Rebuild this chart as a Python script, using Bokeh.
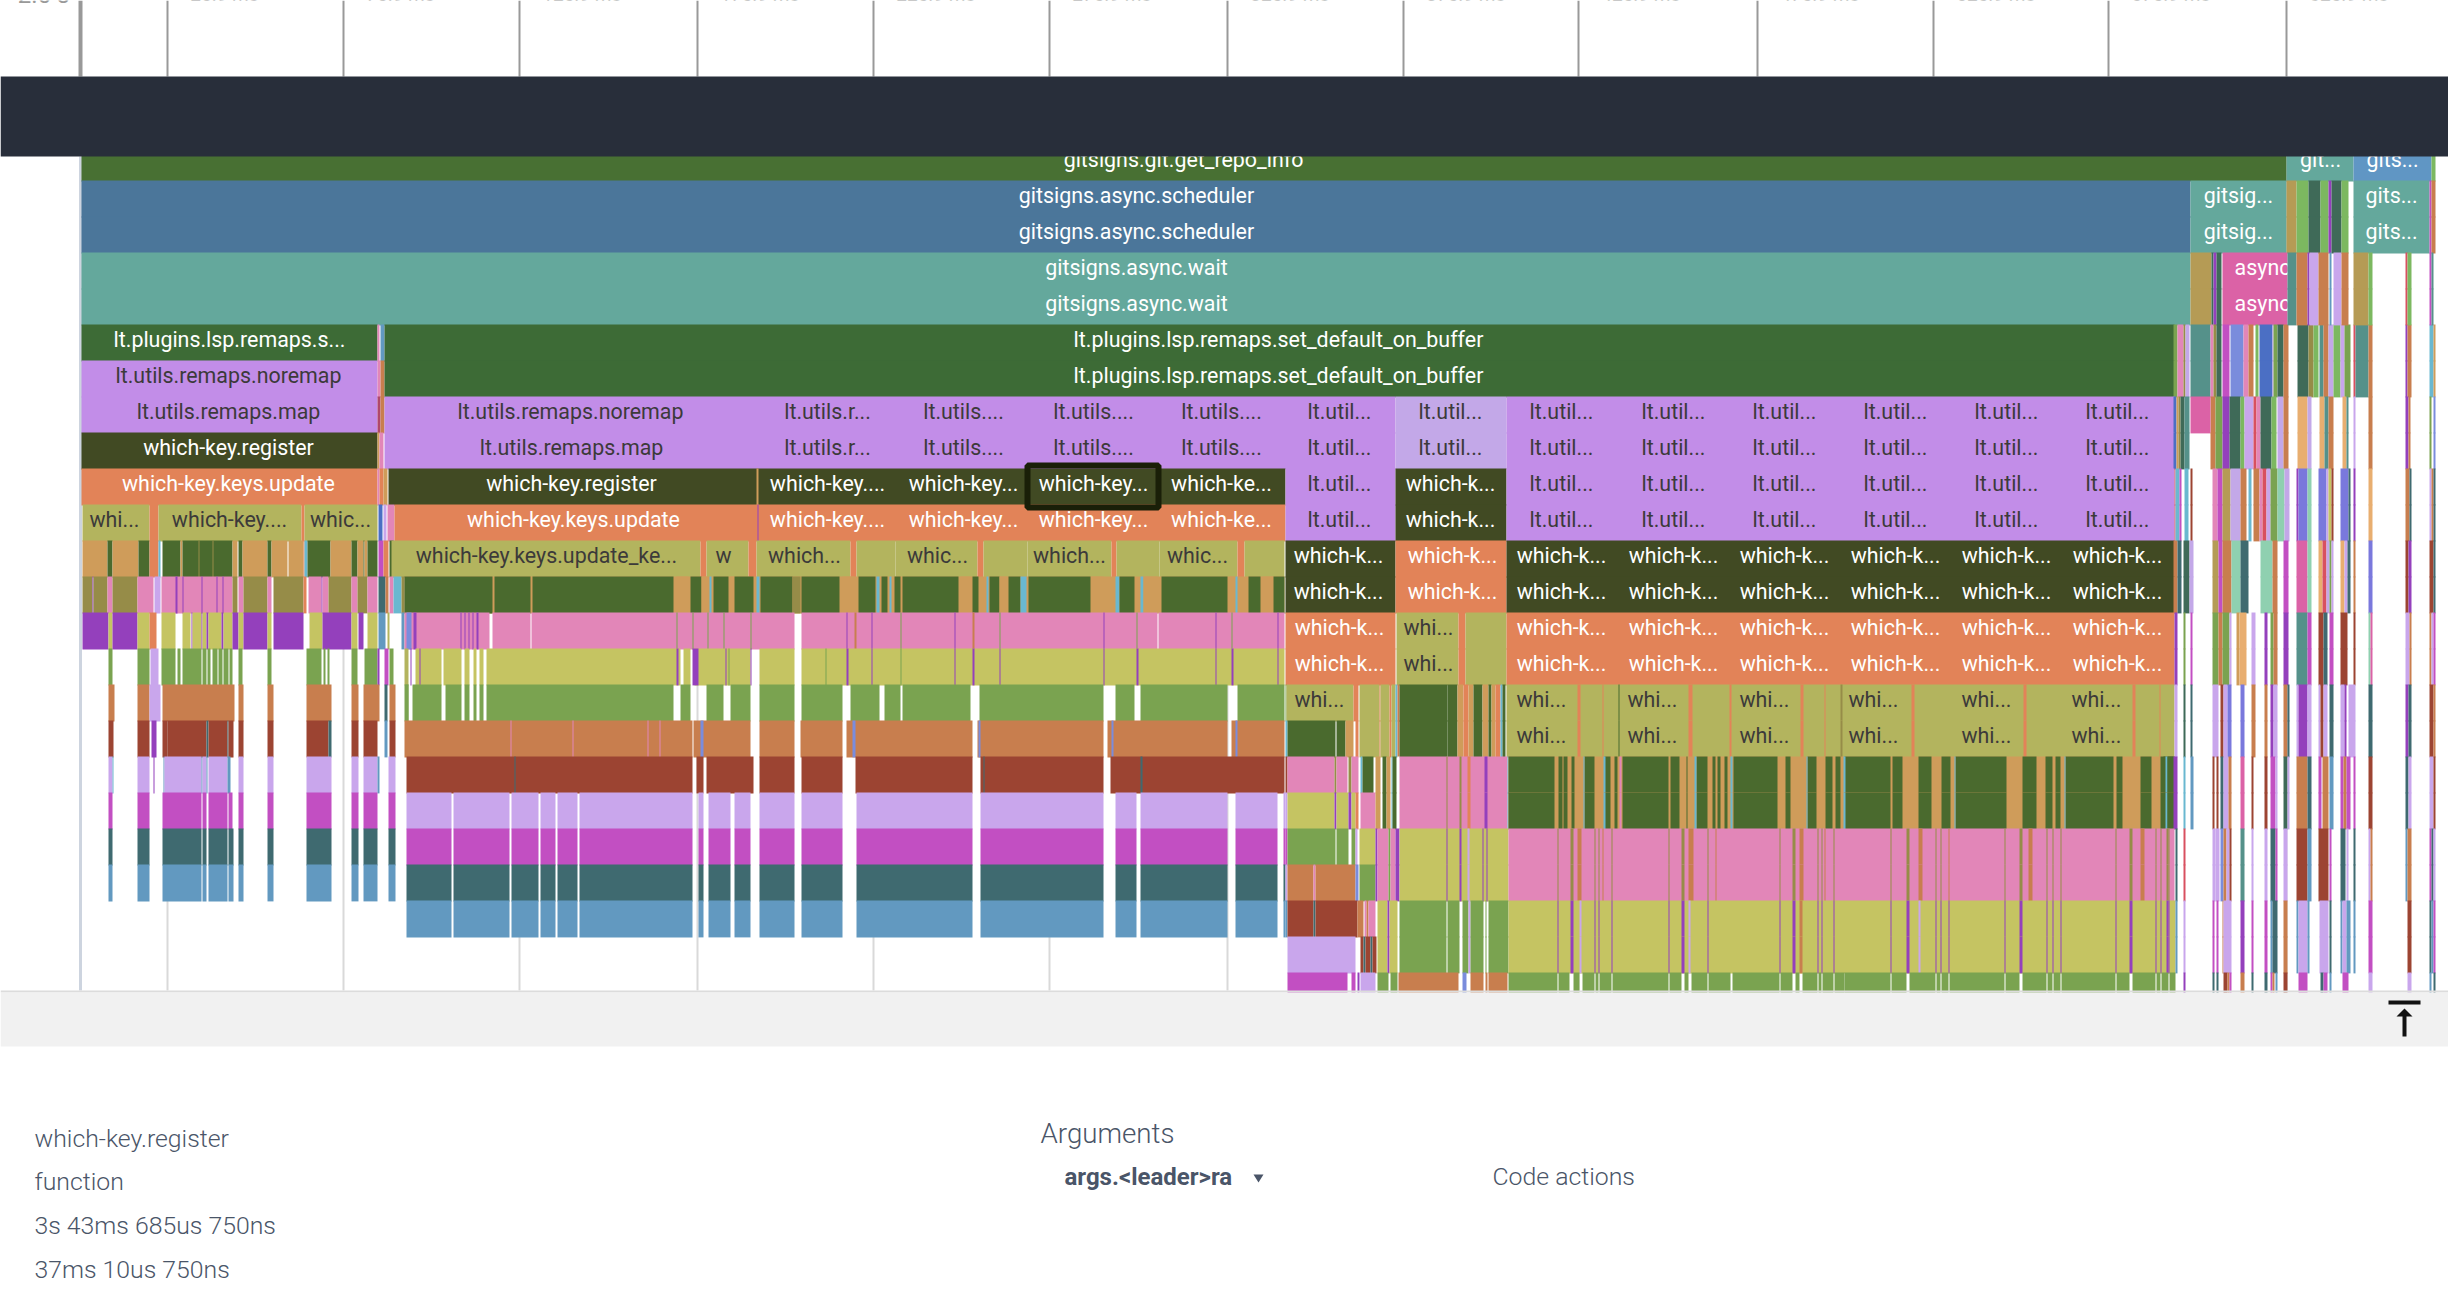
from bokeh.plotting import figure
from bokeh.models import Range1d
from bokeh.core.properties import value
from bokeh.embed import file_html
from bokeh.resources import INLINE

# ---- timeline ticks (x unit: timeline samples since the 2.0 s tick) ----
TICK_T = [87, 263, 439, 617, 793, 969, 1147, 1323, 1498, 1677, 1853, 2028, 2206]
TICK_LABELS = ["+25.9 ms", "+75.9 ms", "+125.9 ms", "+175.9 ms", "+225.9 ms", "+275.9 ms", "+325.9 ms",
               "+375.9 ms", "+425.9 ms", "+475.9 ms", "+525.9 ms", "+575.9 ms", "+625.9 ms"]

# ---- function categories ----
COLORS = dict(GR="#487033", BL="#4b769a", TE="#64a89c", LB="#6096c4", RG="#3d6b36", LV="#c28de8", LL="#c3a8e8",
              OL="#414a23", OR="#e28358", OY="#b3b45e", TN="#cf9c5a", DK="#4a6a2e", PK="#e286b8", YE="#c5c462",
              GN="#7aa350", BR="#c87e4e", RB="#9c4432", LI="#c9a6ec", MG="#c24fc2", DT="#3f6a70", SB="#6299c0",
              PU="#9440bc", O2="#968c48", GD="#b59b55", HP="#db62a6", TM="#55918a", VB="#7a8cdc", CB="#4b6fc4",
              MT="#8fd0b0", AP="#e8ae70", RD="#d85060", CY="#6ab8d0", DG="#3f6a58", LG="#7cb860", VI="#7a78dc",
              WH="#ffffff", CR="#b0486a")

# ---- call spans per depth: (start, end, category) ----
D0 = [(1, 2206, "GR"), (2206, 2273, "TE"), (2273, 2351, "LB"), (2351, 2355, "LG")]
D1_2 = [(1, 2110, "BL"), (2110, 2206, "TE"), (2206, 2216, "GD"), (2216, 2228, "LG"), (2228, 2240, "DG"), (2240, 2248, "LG"),
        (2248, 2251, "PU"), (2251, 2261, "DG"), (2261, 2268, "LG"), (2273, 2349, "TE"), (2349, 2351, "MG"), (2351, 2355, "BR")]
D3_4 = [(1, 2110, "TE"), (2110, 2131, "GD"), (2131, 2133, "DG"), (2133, 2136, "PU"), (2136, 2141, "DG"), (2142, 2207, "HP")]
D3_4_OVER = [(2207, 2216, "TM"), (2216, 2227, "BR"), (2227, 2229, "PU"), (2229, 2238, "LI"), (2238, 2248, "BR"), (2249, 2251, "SB"),
             (2253, 2261, "LI"), (2261, 2268, "BR"), (2273, 2288, "GD"), (2288, 2292, "LG"), (2325, 2327, "RD"), (2327, 2331, "LG"),
             (2349, 2351, "MG"), (2351, 2353, "TM")]
D5 = [(1, 297, "RG"), (297, 299, "PK"), (300, 304, "SB"), (304, 2094, "RG")]
D6 = [(1, 297, "LV"), (297, 300, "PK"), (300, 304, "BR"), (304, 2094, "RG")]
D5_6_TAIL = [(2093, 2097, "GN"), (2097, 2103, "PK"), (2103, 2105, "O2"), (2105, 2109, "LL"), (2110, 2130, "TM"), (2130, 2133, "PK"),
             (2133, 2136, "O2"), (2136, 2141, "DG"), (2142, 2149, "MG"), (2150, 2163, "VB"), (2163, 2168, "PK"), (2168, 2173, "BR"),
             (2175, 2178, "LG"), (2179, 2192, "CB"), (2192, 2193, "LL"), (2193, 2197, "GN"), (2197, 2203, "DG"), (2203, 2208, "BR"),
             (2217, 2228, "DG"), (2228, 2233, "O2"), (2233, 2238, "LG"), (2239, 2243, "TM"), (2243, 2248, "BR"), (2248, 2253, "LL"),
             (2253, 2260, "LG"), (2260, 2264, "LI"), (2264, 2270, "GN"), (2273, 2275, "RD"), (2275, 2288, "TM"), (2288, 2292, "BR"),
             (2325, 2327, "PU"), (2327, 2331, "BR"), (2349, 2353, "CY"), (2353, 2355, "TN")]
D7_LEFT = [(1, 297, "LV"), (297, 300, "CR"), (300, 304, "BR")]
D7 = [(304, 1315, "LV"), (1315, 1426, "LL"), (1426, 2094, "LV")]
D8_LEFT = [(1, 297, "OL"), (297, 299, "TN"), (299, 303, "PK")]
D7_8_TAIL = [(2093, 2096, "CB"), (2096, 2098, "TN"), (2098, 2100, "O2"), (2100, 2104, "DG"), (2104, 2109, "TM"),
             (2130, 2135, "BR"), (2135, 2142, "GN"), (2142, 2149, "PU"), (2149, 2160, "DG"), (2160, 2164, "LG"), (2164, 2173, "LI"),
             (2173, 2176, "RD"), (2176, 2180, "PK"), (2180, 2191, "DG"), (2191, 2196, "LG"), (2197, 2203, "LL"), (2203, 2208, "BR"),
             (2217, 2227, "AP"), (2227, 2231, "LL"), (2239, 2244, "AP"), (2244, 2248, "TM"), (2248, 2253, "BR"), (2262, 2266, "AP"),
             (2266, 2268, "TM"), (2273, 2275, "LI"), (2288, 2292, "BR"), (2325, 2328, "PU"), (2328, 2330, "BR"), (2349, 2351, "GN"),
             (2353, 2355, "VB")]
D7_EXTRA = [(2110, 2130, "HP")]
D9 = [(1, 297, "OR"), (297, 299, "PK"), (299, 303, "OR"), (303, 307, "TN"), (308, 1205, "OL"), (676, 678, "TN"), (1205, 1315, "LV"),
      (1315, 1426, "OL"), (1426, 2094, "LV")]
D10 = [(2, 69, "OY"), (69, 78, "OR"), (78, 221, "OY"), (221, 224, "OR"), (224, 297, "OY"), (298, 302, "CB"), (303, 306, "LI"),
       (307, 314, "PK"), (314, 1205, "OR"), (677, 678, "PU"), (1205, 1315, "LV"), (1315, 1426, "OL"), (1426, 2094, "LV")]
D9_10_TAIL = [(2094, 2095, "RD"), (2095, 2099, "CY"), (2099, 2101, "MG"), (2104, 2108, "CY"), (2110, 2112, "RB"), (2132, 2137, "PK"),
              (2137, 2142, "MG"), (2142, 2150, "GD"), (2150, 2160, "LL"), (2160, 2166, "BR"), (2168, 2171, "CY"), (2173, 2179, "BR"),
              (2179, 2182, "PK"), (2182, 2186, "RD"), (2186, 2190, "LI"), (2190, 2197, "GN"), (2197, 2204, "MT"), (2204, 2209, "LL"),
              (2216, 2218, "PU"), (2218, 2227, "VI"), (2227, 2231, "MT"), (2238, 2246, "VI"), (2246, 2248, "LI"), (2248, 2251, "YE"),
              (2251, 2253, "RB"), (2260, 2268, "VI"), (2268, 2270, "DT"), (2273, 2275, "PU"), (2288, 2292, "AP"), (2325, 2329, "BR"),
              (2329, 2331, "DT"), (2349, 2351, "LI"), (2351, 2353, "BR"), (2353, 2355, "DT")]
D11_LEFT = [(2, 27, "TN"), (27, 32, "DK"), (32, 58, "TN"), (58, 69, "DK"), (69, 78, "OR"), (78, 80, "CY"), (82, 100, "DK"), (100, 102, "TN"),
            (102, 152, "DK"), (118, 119, "O2"), (132, 133, "O2"), (152, 157, "TN"), (158, 162, "DK"), (162, 187, "TN"), (187, 191, "DK"),
            (191, 207, "TN"), (208, 223, "TN"), (223, 224, "OR"), (224, 227, "CY"), (227, 250, "DK"), (250, 271, "TN"), (271, 277, "DK"),
            (277, 283, "TN"), (283, 284, "DK"), (284, 287, "TN"), (287, 297, "DK"), (298, 303, "MG"), (303, 308, "OR"), (309, 313, "DK")]
D11_MAIN = [(311, 620, "OY"), (620, 626, "OR"), (626, 668, "OY"), (668, 676, "OR"), (676, 770, "OY"), (770, 776, "OR"), (776, 815, "OY"),
            (815, 897, "OY"), (897, 903, "OR"), (903, 947, "OY"), (947, 1031, "OY"), (1031, 1036, "OR"), (1036, 1079, "OY"), (1079, 1157, "OY"),
            (1157, 1164, "OR"), (1164, 1204, "OY")]
D11_12_RIGHT = [(1205, 1315, "OL"), (1315, 1426, "OR"), (1426, 2094, "OL")]
D12_LEFT = [(2, 12, "O2"), (12, 13, "PU"), (13, 27, "O2"), (27, 32, "PK"), (32, 57, "O2"), (57, 73, "PK"), (74, 80, "LI"), (81, 152, "PK"),
            (95, 97, "PU"), (102, 103, "PU"), (121, 122, "PU"), (136, 137, "PU"), (142, 143, "PU"), (152, 157, "O2"), (158, 163, "PK"),
            (163, 187, "O2"), (187, 191, "PK"), (193, 223, "O2"), (223, 226, "OR"), (228, 241, "PK"), (241, 242, "PU"), (242, 248, "PK"),
            (248, 271, "O2"), (271, 277, "PK"), (277, 287, "O2"), (287, 297, "PK"), (298, 305, "DT"), (305, 308, "BR"), (309, 313, "PK")]
D12_MAIN = [(324, 1204, "TN"), (313, 321, "CY"), (321, 324, "O2"), (324, 412, "DK"), (414, 450, "DK"), (452, 593, "DK"), (596, 608, "TN"), (610, 621, "DK"),
            (621, 627, "TN"), (629, 631, "CY"), (633, 648, "DK"), (650, 654, "TN"), (654, 673, "DK"), (676, 679, "CY"), (680, 712, "DK"),
            (712, 720, "O2"), (721, 759, "DK"), (762, 774, "TN"), (778, 795, "DK"), (796, 799, "CY"), (801, 807, "DK"), (809, 811, "CY"),
            (814, 820, "DK"), (822, 878, "DK"), (880, 890, "TN"), (892, 898, "DK"), (906, 908, "CY"), (909, 919, "DK"), (919, 927, "TN"),
            (928, 940, "DK"), (940, 946, "CY"), (948, 1010, "DK"), (1011, 1023, "TN"), (1035, 1039, "CY"), (1039, 1054, "DK"), (1060, 1063, "CY"),
            (1063, 1077, "TN"), (1081, 1147, "DK"), (1149, 1155, "TN"), (1155, 1157, "CY"), (1168, 1180, "DK"), (1182, 1193, "TN"), (1193, 1204, "DK")]
D13_LEFT = [(2, 28, "PU"), (28, 32, "YE"), (32, 57, "PU"), (57, 69, "YE"), (69, 76, "OR"), (81, 95, "YE"), (102, 110, "YE"), (111, 112, "PU"),
            (112, 121, "YE"), (121, 122, "PU"), (122, 126, "YE"), (126, 128, "PU"), (128, 141, "YE"), (141, 143, "PU"), (143, 152, "YE"),
            (152, 158, "PU"), (158, 163, "YE"), (163, 187, "PU"), (187, 191, "YE"), (193, 223, "PU"), (229, 242, "YE"), (242, 271, "PU"),
            (271, 277, "YE"), (278, 283, "PU"), (287, 297, "YE"), (298, 305, "SB"), (307, 309, "OY"), (321, 324, "SB")]
D13_MAIN = [(324, 409, "PK"), (412, 450, "PK"), (451, 714, "PK"), (721, 1077, "PK"), (1078, 1204, "PK")]
D13_LINES = [(326, 331, "VB"), (333, 336, "PU"), (380, 381, "PU"), (384, 385, "PU"), (388, 389, "PU"), (392, 393, "PU"), (396, 398, "PU"),
             (596, 597, "GN"), (612, 613, "GN"), (627, 628, "GN"), (643, 644, "GN"), (670, 671, "GN"), (766, 767, "PU"), (774, 776, "BR"),
             (791, 792, "PU"), (820, 821, "GN"), (874, 875, "PU"), (892, 894, "BR"), (919, 920, "GN"), (1023, 1024, "PU"), (1056, 1057, "GN"),
             (1135, 1136, "PU"), (1151, 1152, "GN"), (1197, 1198, "PU")]
D14_LEFT = [(28, 32, "GN"), (57, 69, "GN"), (70, 78, "LI"), (81, 95, "GN"), (97, 100, "GN"), (102, 121, "GN"), (122, 126, "GN"), (127, 130, "GN"),
            (132, 137, "GN"), (138, 142, "GN"), (143, 148, "GN"), (149, 152, "GN"), (158, 162, "GN"), (187, 191, "GN"), (226, 241, "GN"),
            (243, 245, "GN"), (247, 249, "GN"), (271, 277, "GN"), (284, 297, "GN"), (297, 299, "PU"), (304, 308, "MG"), (309, 313, "GN"), (324, 328, "OY")]
D14_MAIN = [(335, 361, "YE"), (363, 381, "YE"), (384, 389, "YE"), (393, 396, "YE"), (399, 403, "YE"), (406, 600, "YE"), (603, 610, "YE"),
            (614, 670, "YE"), (679, 714, "YE"), (721, 1204, "YE")]
D14_LINES = [(330, 331, "PU"), (339, 340, "PU"), (596, 598, "PU"), (612, 618, "PU"), (645, 646, "PU"), (648, 649, "GN"), (670, 671, "PU"),
             (745, 746, "GN"), (766, 768, "PU"), (791, 792, "PU"), (820, 821, "GN"), (874, 875, "PU"), (892, 894, "PU"), (919, 920, "PU"),
             (1023, 1024, "PU"), (1056, 1058, "PU"), (1135, 1136, "PU"), (1151, 1153, "PU"), (1197, 1198, "PU")]
D15_LEFT = [(28, 34, "BR"), (57, 69, "BR"), (69, 80, "LI"), (82, 154, "BR"), (158, 163, "BR"), (187, 193, "BR"), (226, 251, "BR"), (271, 278, "BR"),
            (283, 299, "BR"), (304, 307, "DT"), (309, 315, "BR"), (324, 328, "GN")]
D15_MAIN = [(325, 328, "GN"), (332, 361, "GN"), (365, 381, "GN"), (384, 389, "GN"), (393, 396, "GN"), (399, 403, "GN"), (406, 593, "GN"),
            (600, 610, "GN"), (626, 643, "GN"), (650, 670, "GN"), (679, 714, "GN"), (721, 762, "GN"), (770, 799, "GN"), (804, 820, "GN"),
            (822, 890, "GN"), (899, 1023, "GN"), (1035, 1054, "GN"), (1060, 1147, "GN"), (1157, 1204, "GN")]
D16_LEFT = [(28, 33, "RB"), (57, 69, "RB"), (71, 76, "PU"), (82, 87, "RB"), (87, 126, "RB"), (126, 128, "DT"), (128, 147, "RB"), (147, 148, "DT"),
            (148, 153, "RB"), (158, 163, "RB"), (187, 193, "RB"), (226, 248, "RB"), (248, 251, "DT"), (271, 278, "RB"), (283, 297, "RB"),
            (304, 307, "SB"), (309, 315, "RB")]
D16_MAIN = [(324, 612, "BR"), (613, 670, "BR"), (679, 714, "BR"), (720, 762, "BR"), (766, 892, "BR"), (897, 1023, "BR"), (1027, 1147, "BR"), (1151, 1204, "BR"),
            (620, 623, "VB"), (772, 775, "VB"), (898, 900, "VB"), (1031, 1033, "VB"), (1155, 1157, "VB"), (430, 431, "PK"), (492, 493, "PK"),
            (567, 568, "PK"), (579, 580, "PK")]
D17_LEFT = [(28, 32, "LI"), (32, 33, "CY"), (57, 69, "LI"), (73, 74, "PU"), (83, 84, "SB"), (84, 121, "LI"), (121, 122, "SB"), (122, 126, "LI"),
            (126, 127, "SB"), (128, 147, "LI"), (147, 150, "SB"), (158, 163, "LI"), (187, 193, "LI"), (226, 251, "LI"), (271, 278, "LI"),
            (283, 297, "LI"), (297, 299, "SB"), (308, 315, "LI")]
D17_MAIN = [(326, 612, "RB"), (616, 623, "RB"), (626, 673, "RB"), (679, 714, "RB"), (721, 762, "RB"), (775, 892, "RB"), (900, 1023, "RB"), (1030, 1204, "RB"),
            (434, 435, "DT"), (903, 904, "DT"), (1060, 1062, "DT")]
D18_LEFT = [(28, 32, "MG"), (57, 69, "MG"), (82, 121, "MG"), (122, 126, "MG"), (128, 147, "MG"), (148, 152, "MG"), (158, 163, "MG"), (187, 193, "MG"),
            (226, 251, "MG"), (271, 278, "MG"), (283, 297, "MG"), (308, 315, "MG")]
D19_LEFT = [(28, 32, "DT"), (57, 69, "DT"), (82, 121, "DT"), (122, 126, "DT"), (128, 147, "DT"), (148, 153, "DT"), (158, 163, "DT"), (187, 193, "DT"),
            (226, 251, "DT"), (271, 278, "DT"), (283, 297, "DT"), (308, 315, "DT")]
D20_LEFT = [(28, 32, "SB"), (57, 69, "SB"), (82, 121, "SB"), (122, 126, "SB"), (128, 147, "SB"), (148, 153, "SB"), (158, 163, "SB"), (187, 193, "SB"),
            (226, 251, "SB"), (271, 278, "SB"), (283, 297, "SB"), (308, 315, "SB")]
DEEP_START = [326, 373, 431, 460, 477, 499, 618, 628, 654, 679, 721, 776, 900, 1035, 1060, 1155, 1203]
DEEP_END = [371, 429, 458, 475, 497, 612, 623, 650, 670, 714, 762, 892, 1023, 1056, 1147, 1197, 1205]

# right half of the trace, t 1205 .. 2094
D13_14_R = [(1205, 1315, "OR"), (1316, 1378, "OY"), (1378, 1385, "OR"), (1385, 1426, "OY"), (1426, 2094, "OR")]
D15_R = [(1205, 1206, "GN"), (1206, 1273, "OY"), (1273, 1278, "OR"), (1426, 2094, "OY")]
D16_R = [(1205, 1207, "CY"), (1207, 1255, "DK"), (1256, 1265, "DK"), (1265, 1273, "TN"), (1275, 1278, "OR"), (1426, 2094, "OY")]
D15_16_MID = [(1279, 1299, "OY"), (1299, 1300, "OR"), (1300, 1309, "OY"), (1309, 1311, "OR"), (1311, 1315, "OY"), (1315, 1317, "CY"), (1317, 1319, "BR"),
              (1319, 1367, "DK"), (1367, 1377, "DK"), (1377, 1383, "TN"), (1383, 1388, "OR"), (1388, 1393, "TN"), (1393, 1402, "DK"), (1402, 1408, "TN"),
              (1408, 1411, "DK"), (1411, 1415, "TN"), (1415, 1420, "OR"), (1420, 1422, "CY"), (1422, 1425, "DK"),
              (1497, 1500, "OR"), (1522, 1523, "OR"), (1538, 1539, "DK"), (1608, 1612, "OR"), (1649, 1651, "OR"), (1720, 1723, "OR"), (1744, 1745, "OR"),
              (1760, 1762, "O2"), (1831, 1834, "OR"), (1943, 1946, "OR"), (2052, 2055, "OR"), (2079, 2080, "OR")]
D17_R = [(1205, 1207, "RB"), (1207, 1254, "PK"), (1254, 1256, "O2"), (1256, 1267, "PK"), (1268, 1271, "O2"), (1271, 1278, "PK"), (1280, 1282, "CY"), (1282, 1293, "DK")]
D18_R = [(1205, 1207, "LI"), (1207, 1254, "YE"), (1254, 1256, "PU"), (1256, 1268, "YE"), (1268, 1271, "PU"), (1271, 1275, "YE"), (1275, 1278, "OR"), (1280, 1295, "PK")]
D17_18_MID = [(1295, 1300, "TN"), (1302, 1306, "DK"), (1306, 1310, "TN"), (1311, 1312, "CY"), (1312, 1316, "DK"), (1317, 1319, "WH"), (1319, 1427, "PK"),
              (1366, 1367, "O2"), (1379, 1381, "O2"), (1387, 1390, "OR"), (1404, 1407, "PU"), (1427, 1428, "CY")]
D17_18_BASE = [(1428, 2094, "TN")]
D17_18_DK = [(1428, 1474, "DK"), (1478, 1482, "DK"), (1483, 1487, "DK"), (1491, 1494, "DK"), (1504, 1514, "DK"), (1524, 1530, "DK"), (1534, 1537, "DK"),
             (1542, 1588, "DK"), (1590, 1599, "DK"), (1606, 1607, "DK"), (1616, 1627, "DK"), (1632, 1635, "DK"), (1637, 1640, "DK"), (1644, 1647, "DK"),
             (1653, 1697, "DK"), (1705, 1710, "DK"), (1727, 1736, "DK"), (1745, 1752, "DK"), (1755, 1760, "DK"),
             (1764, 1810, "DK"), (1812, 1822, "DK"), (1838, 1851, "DK"), (1861, 1870, "DK"),
             (1875, 1926, "DK"), (1942, 1956, "DK"), (1965, 1972, "DK"), (1975, 1980, "DK"),
             (1985, 2033, "DK"), (2036, 2042, "DK"), (2060, 2071, "DK"), (2083, 2094, "DK")]
D17_18_CY = [(1503, 1504, "CY"), (1523, 1525, "CY"), (1539, 1541, "PK"), (1614, 1616, "CY"), (1650, 1652, "CY"), (1726, 1727, "CY"), (1763, 1765, "CY"),
             (1874, 1875, "CY"), (1984, 1985, "CY")]
D19_20_BASE = [(1428, 2094, "PK")]
D19_20_LINES = [(1477, 1478, "O2"), (1490, 1493, "O2"), (1497, 1501, "BR"), (1514, 1515, "O2"), (1518, 1519, "O2"), (1522, 1523, "BR"), (1531, 1532, "O2"),
                (1588, 1589, "O2"), (1601, 1604, "O2"), (1608, 1613, "BR"), (1627, 1628, "O2"), (1635, 1636, "BR"), (1699, 1700, "O2"), (1712, 1715, "O2"),
                (1719, 1723, "BR"), (1737, 1738, "O2"), (1741, 1742, "O2"), (1744, 1745, "BR"), (1753, 1754, "O2"), (1810, 1811, "O2"), (1826, 1829, "O2"),
                (1838, 1842, "BR"), (1855, 1856, "O2"), (1860, 1861, "O2"), (1868, 1869, "BR"), (1924, 1925, "O2"), (1939, 1942, "O2"), (1948, 1952, "BR"),
                (1966, 1967, "O2"), (1972, 1973, "O2"), (1980, 1981, "O2"), (2035, 2036, "O2"), (2049, 2052, "O2"), (2060, 2064, "BR"), (2075, 2076, "O2"),
                (2080, 2081, "O2"), (2088, 2089, "O2")]
D19_R = [(1205, 1207, "MG"), (1207, 1255, "GN"), (1256, 1268, "GN"), (1271, 1275, "GN"), (1275, 1277, "LI"), (1279, 1295, "YE")]
D20_R = [(1205, 1207, "LI"), (1207, 1233, "BR"), (1233, 1235, "PK"), (1235, 1275, "BR"), (1275, 1278, "VB"), (1279, 1295, "GN")]
D19_20_MID = [(1295, 1297, "PU"), (1297, 1308, "PK"), (1308, 1310, "GN"), (1310, 1315, "PK"), (1315, 1319, "PU"), (1319, 1428, "YE"), (1366, 1367, "PU"),
              (1379, 1381, "PU"), (1387, 1389, "LI"), (1402, 1403, "PU"), (1406, 1407, "PU")]
D21_22_BASE = [(1428, 2095, "YE")]
D21_22_LINES = [(1477, 1478, "PU"), (1490, 1493, "PU"), (1499, 1501, "LI"), (1514, 1515, "PU"), (1518, 1519, "PU"), (1531, 1532, "PU"), (1588, 1589, "PU"),
                (1601, 1604, "PU"), (1608, 1610, "LI"), (1627, 1628, "PU"), (1699, 1700, "PU"), (1712, 1715, "PU"), (1719, 1722, "BR"), (1737, 1738, "PU"),
                (1741, 1742, "PU"), (1753, 1754, "PU"), (1810, 1811, "PU"), (1826, 1829, "PU"), (1838, 1840, "LI"), (1855, 1856, "PU"), (1860, 1861, "PU"),
                (1868, 1869, "PU"), (1924, 1925, "PU"), (1939, 1942, "PU"), (1966, 1967, "PU"), (1972, 1973, "PU"), (1980, 1981, "PU"), (2035, 2036, "PU"),
                (2049, 2052, "PU"), (2075, 2076, "PU"), (2080, 2081, "PU"), (2088, 2089, "PU")]
D21_R = [(1205, 1207, "SB"), (1207, 1233, "RB"), (1233, 1235, "DT"), (1235, 1277, "RB"), (1277, 1283, "BR"), (1284, 1286, "PK"), (1286, 1288, "BR"), (1288, 1295, "PK")]
D22_R = [(1207, 1275, "LI"), (1280, 1283, "RB"), (1283, 1285, "DT"), (1285, 1290, "RB"), (1290, 1292, "DT"), (1292, 1296, "RB")]
D21_22_MID = [(1297, 1307, "YE"), (1307, 1309, "PU"), (1309, 1317, "YE"), (1319, 1366, "GN"), (1367, 1379, "GN"), (1382, 1388, "GN"), (1388, 1390, "LI"),
              (1390, 1403, "GN"), (1405, 1406, "GN"), (1408, 1428, "GN")]
D23 = [(1207, 1267, "MG"), (1271, 1275, "MG"), (1277, 1279, "PU"), (1280, 1295, "LI"), (1297, 1308, "GN"), (1310, 1317, "GN"), (1318, 1378, "BR"),
       (1382, 1386, "VB"), (1390, 1403, "BR"), (1405, 1407, "BR"), (1408, 1427, "BR"), (1428, 1477, "GN"), (1478, 1489, "GN"), (1493, 1499, "GN"),
       (1502, 1514, "GN"), (1515, 1518, "GN"), (1519, 1531, "GN"), (1532, 1588, "GN"), (1589, 1601, "GN"), (1604, 1608, "GN"), (1611, 1627, "GN"),
       (1628, 1650, "GN"), (1652, 1699, "GN"), (1700, 1712, "GN"), (1715, 1719, "GN"), (1722, 1737, "GN"), (1738, 1741, "GN"), (1742, 1753, "GN"),
       (1754, 1764, "GN"), (1764, 1810, "GN"), (1811, 1826, "GN"), (1829, 1855, "GN"), (1856, 1860, "GN"), (1861, 1868, "GN"), (1869, 1924, "GN"),
       (1925, 1939, "GN"), (1942, 1966, "GN"), (1967, 1972, "GN"), (1973, 1980, "GN"), (1981, 2035, "GN"), (2036, 2049, "GN"), (2052, 2075, "GN"),
       (2076, 2080, "GN"), (2081, 2088, "GN"), (2089, 2095, "GN")]

# columns right of the main trace
T11_12 = [(2093, 2097, "BR"), (2097, 2101, "DT"), (2103, 2109, "DG"), (2109, 2113, "LL"), (2132, 2138, "GD"), (2138, 2142, "MG"), (2142, 2151, "BR"),
          (2151, 2160, "MT"), (2160, 2168, "DT"), (2180, 2192, "MT"), (2192, 2197, "BR"), (2203, 2208, "MG"), (2216, 2227, "HP"), (2227, 2231, "MT"),
          (2238, 2242, "AP"), (2242, 2246, "RD"), (2246, 2249, "LL"), (2249, 2251, "GN"), (2251, 2253, "LI"), (2260, 2264, "AP"), (2264, 2267, "LI"),
          (2267, 2270, "DT"), (2273, 2275, "BR"), (2288, 2292, "VI"), (2325, 2328, "RB"), (2328, 2331, "PU"), (2349, 2353, "RB"), (2353, 2355, "DT")]
T13_14 = [(2094, 2097, "PU"), (2103, 2105, "GN"), (2110, 2112, "MG"), (2132, 2138, "GN"), (2138, 2142, "BR"), (2142, 2149, "GN"), (2149, 2151, "LI"),
          (2156, 2159, "TN"), (2159, 2166, "AP"), (2171, 2175, "LI"), (2184, 2187, "PU"), (2190, 2193, "GN"), (2193, 2197, "BR"), (2203, 2208, "PU"),
          (2216, 2227, "TM"), (2227, 2231, "MG"), (2238, 2243, "RB"), (2243, 2247, "DT"), (2249, 2253, "MG"), (2260, 2267, "RB"), (2273, 2275, "RB"),
          (2288, 2290, "MT"), (2290, 2292, "HP"), (2325, 2329, "LI"), (2329, 2331, "BR"), (2349, 2351, "BR"), (2351, 2353, "LI"), (2353, 2355, "MG")]
T15_16 = [(2094, 2097, "LI"), (2103, 2105, "DG"), (2110, 2112, "DT"), (2132, 2138, "LI"), (2140, 2143, "RB"), (2143, 2147, "LI"), (2147, 2151, "VI"),
          (2160, 2164, "VI"), (2171, 2175, "BR"), (2184, 2187, "BR"), (2190, 2193, "PU"), (2193, 2197, "LI"), (2203, 2207, "BR"), (2207, 2209, "DT"),
          (2216, 2218, "LI"), (2218, 2227, "PU"), (2227, 2231, "LI"), (2238, 2240, "LI"), (2240, 2243, "RB"), (2243, 2247, "LI"), (2249, 2253, "DT"),
          (2260, 2264, "LI"), (2264, 2266, "PU"), (2268, 2275, "LI"), (2288, 2292, "DT"), (2325, 2328, "PU"), (2328, 2331, "DT"), (2349, 2353, "RB"), (2353, 2355, "BR")]
T17_18 = [(2080, 2085, "DK"), (2085, 2087, "CY"), (2087, 2093, "DK"), (2093, 2097, "PU"), (2103, 2105, "CY"), (2110, 2113, "SB"), (2132, 2134, "RB"),
          (2136, 2138, "RB"), (2140, 2143, "DT"), (2143, 2148, "LI"), (2148, 2151, "BR"), (2160, 2164, "HP"), (2171, 2173, "RB"), (2184, 2187, "RB"),
          (2190, 2195, "MG"), (2195, 2197, "LI"), (2203, 2207, "DG"), (2207, 2209, "LL"), (2216, 2227, "BR"), (2227, 2231, "DT"), (2238, 2241, "MG"),
          (2242, 2248, "BR"), (2249, 2253, "SB"), (2260, 2263, "MG"), (2263, 2266, "BR"), (2266, 2270, "MG"), (2273, 2275, "MG"), (2288, 2292, "RB"),
          (2325, 2328, "DT"), (2328, 2331, "LI"), (2349, 2353, "LI"), (2353, 2355, "RB")]
T19_20 = [(2086, 2088, "O2"), (2095, 2097, "DT"), (2103, 2105, "RD"), (2132, 2135, "LI"), (2135, 2139, "LI"), (2140, 2143, "VB"), (2143, 2146, "BR"),
          (2146, 2149, "LI"), (2149, 2151, "RB"), (2160, 2164, "TM"), (2171, 2173, "LI"), (2184, 2187, "LI"), (2190, 2195, "DT"), (2195, 2197, "MG"),
          (2203, 2207, "LI"), (2216, 2227, "RB"), (2227, 2231, "SB"), (2238, 2248, "RB"), (2249, 2251, "MG"), (2260, 2265, "DT"), (2266, 2268, "LI"),
          (2273, 2275, "DT"), (2288, 2290, "LI"), (2290, 2292, "BR"), (2325, 2327, "SB"), (2327, 2331, "BR"), (2349, 2351, "MG"), (2351, 2353, "DT"), (2353, 2355, "LI")]
T21_22 = [(2086, 2088, "PU"), (2095, 2097, "SB"), (2103, 2105, "LI"), (2132, 2134, "MG"), (2136, 2138, "MG"), (2142, 2143, "BR"), (2143, 2151, "LI"),
          (2160, 2164, "PU"), (2171, 2173, "MG"), (2184, 2187, "MG"), (2190, 2192, "SB"), (2192, 2197, "DT"), (2203, 2207, "BR"), (2216, 2218, "SB"),
          (2218, 2227, "LI"), (2227, 2229, "SB"), (2239, 2248, "LI"), (2249, 2251, "DT"), (2260, 2262, "SB"), (2262, 2266, "LI"), (2266, 2270, "SB"),
          (2273, 2275, "SB"), (2288, 2292, "MG"), (2327, 2331, "RB"), (2349, 2351, "DT"), (2351, 2353, "SB"), (2353, 2355, "MG")]
T23 = [(2103, 2105, "PU"), (2132, 2134, "DT"), (2136, 2138, "DT"), (2143, 2147, "RB"), (2147, 2149, "BR"), (2149, 2151, "MG"), (2160, 2164, "BR"),
       (2171, 2173, "DT"), (2184, 2187, "DT"), (2190, 2192, "MG"), (2192, 2194, "BR"), (2195, 2197, "SB"), (2203, 2207, "RB"), (2218, 2227, "MG"),
       (2240, 2243, "DT"), (2243, 2247, "MG"), (2249, 2251, "SB"), (2262, 2268, "MG"), (2288, 2292, "LI"), (2327, 2331, "LI"), (2349, 2351, "SB"), (2353, 2355, "DT")]

# ---- labels: depth, centre time, text ----
LV_T = [1259, 1370, 1481, 1593, 1704, 1815, 1926, 2037]
WK_T = [1258, 1372, 1481, 1593, 1704, 1815, 1926, 2037]
ON_LIGHT = [(6, 148, "lt.utils.remaps.noremap"), (7, 148, "lt.utils.remaps.map"),
            (7, 490, "lt.utils.remaps.noremap"), (8, 491, "lt.utils.remaps.map"),
            (7, 747, "lt.utils.r..."), (8, 747, "lt.utils.r..."), (7, 883, "lt.utils...."), (8, 883, "lt.utils...."),
            (7, 1013, "lt.utils...."), (8, 1013, "lt.utils...."), (7, 1141, "lt.utils...."), (8, 1141, "lt.utils...."),
            (10, 34, "whi..."), (10, 149, "which-key...."), (10, 260, "whic..."),
            (11, 466, "which-key.keys.update_ke..."), (11, 643, "w"), (11, 724, "which..."), (11, 857, "whic..."),
            (11, 989, "which..."), (11, 1117, "whic..."), (13, 1348, "whi..."), (14, 1348, "whi..."), (15, 1239, "whi...")]
ON_DARK = [(0, 1103, "gitsigns.git.get_repo_info"), (0, 2240, "git..."), (0, 2312, "gits..."),
           (1, 1056, "gitsigns.async.scheduler"), (2, 1056, "gitsigns.async.scheduler"),
           (1, 2158, "gitsig..."), (2, 2158, "gitsig..."), (1, 2311, "gits..."), (2, 2311, "gits..."),
           (3, 1056, "gitsigns.async.wait"), (4, 1056, "gitsigns.async.wait"),
           (5, 149, "lt.plugins.lsp.remaps.s..."), (5, 1198, "lt.plugins.lsp.remaps.set_default_on_buffer"),
           (6, 1198, "lt.plugins.lsp.remaps.set_default_on_buffer"),
           (8, 148, "which-key.register"), (9, 148, "which-key.keys.update"), (9, 491, "which-key.register"),
           (9, 747, "which-key...."), (9, 883, "which-key..."), (9, 1013, "which-key..."), (9, 1141, "which-ke..."),
           (10, 493, "which-key.keys.update"), (10, 747, "which-key...."), (10, 883, "which-key..."), (10, 1013, "which-key..."), (10, 1141, "which-ke...")]
ASYNC = [(3, 2182, "async"), (4, 2182, "async")]
WHI_T = [1461, 1572, 1684, 1793, 1906, 2016]
DETAIL = ["which-key.register", "function", "3s 43ms 685us 750ns", "37ms 10us 750ns"]

# ---- layout helpers ----
W, H = 2448, 1294
T0 = 80            # page column of the 2.0 s tick
R0, RH = 144, 36   # page row of depth 0, height of one depth
SEAM = 0.025       # rows overlap a hair so no seam shows between them


def py(y):
    return (y - R0) / RH


def tx(x):
    return x - T0


for k in [7, 8]:
    ON_LIGHT += [(k, t, "lt.util...") for t in LV_T]
for k in [9, 10]:
    ON_LIGHT += [(k, t, "lt.util...") for t in LV_T if t != 1370]
    ON_DARK.append((k, 1370, "which-k..."))
for k in [11, 12]:
    ON_DARK += [(k, t, "which-k...") for t in WK_T]
for k in [13, 14]:
    ON_DARK += [(k, t, "which-k...") for t in LV_T if t != 1370]
for k in [15, 16]:
    ON_LIGHT += [(k, t, "whi...") for t in WHI_T]

DEEP = lambda code: [(a, b, code) for a, b in zip(DEEP_START, DEEP_END)]

ROWS = {
    0: [D0], 1: [D1_2], 2: [D1_2], 3: [D3_4], 4: [D3_4],
    5: [D5, D5_6_TAIL], 6: [D6, D5_6_TAIL],
    7: [D7_LEFT, D7, D7_8_TAIL, D7_EXTRA], 8: [D8_LEFT, D7, D7_8_TAIL],
    9: [D9, D9_10_TAIL], 10: [D10, D9_10_TAIL],
    11: [D11_LEFT, D11_MAIN, D11_12_RIGHT, T11_12], 12: [D12_LEFT, D12_MAIN, D11_12_RIGHT, T11_12],
    13: [D13_LEFT, D13_MAIN, D13_LINES, D13_14_R, T13_14], 14: [D14_LEFT, D14_MAIN, D14_LINES, D13_14_R, T13_14],
    15: [D15_LEFT, D15_MAIN, D15_R, D15_16_MID, T15_16], 16: [D16_LEFT, D16_MAIN, D16_R, D15_16_MID, T15_16],
    17: [D17_LEFT, D17_MAIN, D17_R, D17_18_MID, D17_18_BASE, D17_18_DK, D17_18_CY, T17_18],
    18: [D18_LEFT, DEEP("LI"), D18_R, D17_18_MID, D17_18_BASE, D17_18_DK, D17_18_CY, T17_18],
    19: [D19_LEFT, DEEP("MG"), D19_R, D19_20_MID, D19_20_BASE, D19_20_LINES, T19_20],
    20: [D20_LEFT, DEEP("DT"), D20_R, D19_20_MID, D19_20_BASE, D19_20_LINES, T19_20],
    21: [DEEP("SB"), D21_R, D21_22_MID, D21_22_BASE, D21_22_LINES, T21_22],
    22: [D22_R, D21_22_MID, D21_22_BASE, D21_22_LINES, T21_22],
    23: [D23, T23],
}


def columns(rows):
    c = dict(left=[], right=[], top=[], bottom=[], color=[])
    for k, lists in rows:
        for lst in lists:
            for a, b, code in lst:
                c["left"].append(a)
                c["right"].append(b)
                c["top"].append(k)
                c["bottom"].append(k + 1 + SEAM)
                c["color"].append(COLORS[code])
    return c


p = figure(width=W, height=H, x_range=Range1d(-T0, W - T0), y_range=Range1d(py(H), py(0)),
           output_backend="svg", toolbar_location=None, min_border=0, outline_line_color=None,
           background_fill_color="white", border_fill_color="white", margin=0)
p.axis.visible = False
p.grid.visible = False

# gridlines
p.segment(x0=TICK_T, x1=TICK_T, y0=py(0), y1=py(76), line_color="#999999", line_width=2)
p.segment(x0=[0], x1=[0], y0=py(0), y1=py(76), line_color="#999999", line_width=4)
p.segment(x0=TICK_T, x1=TICK_T, y0=py(156), y1=py(990), line_color="#d9d9d9", line_width=2)
p.segment(x0=[0], x1=[0], y0=py(156), y1=py(990), line_color="#cdd4df", line_width=3)

# tick labels, cut by the top of the page
p.text(x=TICK_T, y=[py(4)] * len(TICK_T), text=TICK_LABELS, x_offset=12, y_offset=-10, text_font=value("Roboto"),
       text_font_size="19px", text_color="#999999", text_baseline="alphabetic", text_align="left")
p.text(x=[0], y=[py(4)], text=["2.0 s"], x_offset=-11, y_offset=-10, text_font=value("Roboto"), text_font_size="24px",
       text_color="#999999", text_baseline="alphabetic", text_align="right")

# flame spans
p.quad(source=columns(ROWS.items()), left="left", right="right", top="top", bottom="bottom",
       fill_color="color", line_color=None)

# labels
LABEL_SIZE = "21.4px"


def labels(items, color):
    p.text(x=[i[1] for i in items], y=[i[0] + 0.5 for i in items], text=[i[2] for i in items], y_offset=-3,
           text_font=value("Roboto"), text_font_size=LABEL_SIZE, text_color=color,
           text_align="center", text_baseline="middle")


labels(ON_LIGHT, "#3c3a3a")
labels(ON_DARK, "#ffffff")
labels(ASYNC, "#ffffff")
p.quad(source=columns([(3, [D3_4_OVER]), (4, [D3_4_OVER])]), left="left", right="right", top="top", bottom="bottom",
       fill_color="color", line_color=None)

# selected span
p.quad(left=[947], right=[1078], top=[9 - 3 / RH], bottom=[10 + 3 / RH], fill_color=None, line_color="#1a1f08", line_width=6)

# page chrome over the trace
p.quad(left=[-T0], right=[W - T0], top=[py(76)], bottom=[py(156)], fill_color="#282e3a", line_color=None)
p.quad(left=[-T0], right=[W - T0], top=[py(990)], bottom=[py(992)], fill_color="#dcdcdc", line_color=None)
p.quad(left=[-T0], right=[W - T0], top=[py(992)], bottom=[py(1046)], fill_color="#f1f1f1", line_color=None)
p.quad(left=[tx(2388)], right=[tx(2420)], top=[py(1000)], bottom=[py(1004)], fill_color="#111111", line_color=None)
p.quad(left=[tx(2402)], right=[tx(2406)], top=[py(1014)], bottom=[py(1036)], fill_color="#111111", line_color=None)
p.patch(x=[tx(2396), tx(2404), tx(2412)], y=[py(1016), py(1008), py(1016)], fill_color="#111111", line_color=None)

# detail panel
for txt, y in zip(DETAIL, [1138, 1181, 1225, 1269]):
    p.text(x=[tx(34)], y=[py(y)], text=[txt], text_font=value("Roboto Light"), text_font_size="24.8px", text_color="#4a5568",
           text_baseline="middle", text_align="left")
p.text(x=[tx(1040)], y=[py(1133)], text=["Arguments"], text_font=value("Roboto Light"), text_font_size="27.7px", text_color="#4a5568",
       text_baseline="middle", text_align="left")
p.text(x=[tx(1064)], y=[py(1176)], text=["args.<leader>ra"], text_font=value("Roboto"), text_font_size="24px", text_color="#4a5568",
       text_font_style="bold", text_baseline="middle", text_align="left")
p.patch(x=[tx(1253), tx(1263), tx(1258)], y=[py(1174), py(1174), py(1182)], fill_color="#4a5568", line_color=None)
p.text(x=[tx(1492)], y=[py(1176)], text=["Code actions"], text_font=value("Roboto Light"), text_font_size="24.8px", text_color="#4a5568",
       text_baseline="middle", text_align="left")

open("out.html", "w").write(file_html(p, INLINE))
